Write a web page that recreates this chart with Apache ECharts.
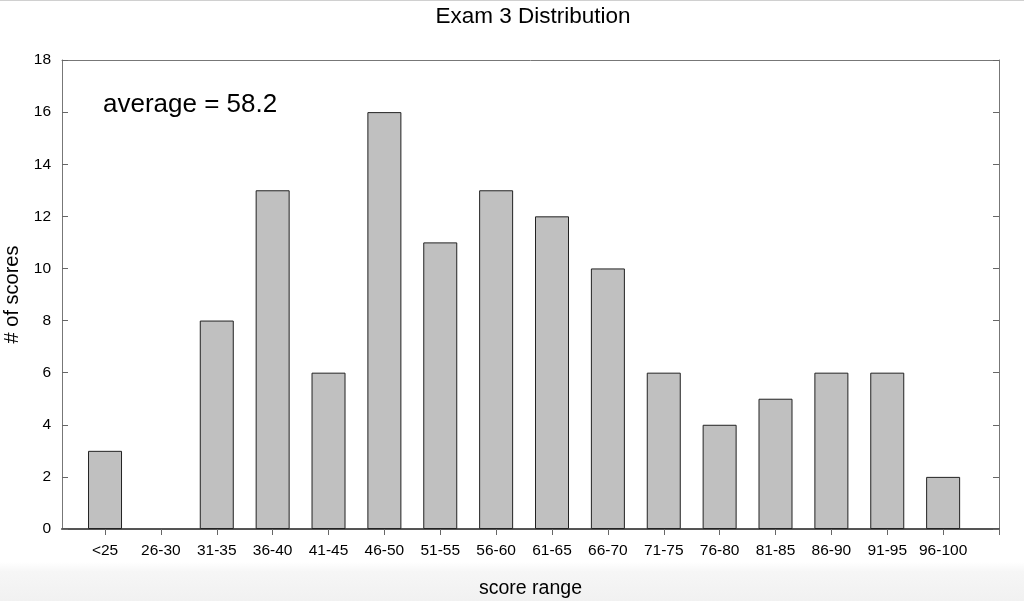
<!DOCTYPE html>
<html>
<head>
<meta charset="utf-8">
<script src="https://cdn.jsdelivr.net/npm/echarts@6/dist/echarts.min.js"></script>
<style>
  html, body { margin: 0; padding: 0; background: #fff; }
  #chart { width: 1024px; height: 601px; }
</style>
</head>
<body>
<div id="chart"></div>
<script>
var categories = ['<25', '26-30', '31-35', '36-40', '41-45', '46-50', '51-55', '56-60',
    '61-65', '66-70', '71-75', '76-80', '81-85', '86-90', '91-95', '96-100'];
var counts = [3, 0, 8, 13, 6, 16, 11, 13, 12, 10, 6, 4, 5, 6, 6, 2];
var yTicks = [0, 2, 4, 6, 8, 10, 12, 14, 16, 18];
var averageText = 'average = 58.2';

var tickPositions = [];
for (var i = 0; i <= categories.length; i++) tickPositions.push(i);
var labelPositions = tickPositions.slice(0, categories.length);

// empty bins draw nothing at all
var barData = counts.map(function (v, i) { return v === 0 ? [i, null] : [i, v]; });

var font = 'Liberation Sans, Arial, sans-serif';
var myChart = echarts.init(document.getElementById('chart'));

var option = {
    animation: false,
    backgroundColor: '#fff',
    title: {
        text: 'Exam 3 Distribution',
        left: 528,
        textAlign: 'center',
        top: 0,
        textStyle: { fontFamily: font, fontSize: 22.5, fontWeight: 'normal', color: '#000' }
    },
    graphic: [
        {
            type: 'rect',
            z: -10,
            silent: true,
            shape: { x: 0, y: 562, width: 1024, height: 39 },
            style: {
                fill: new echarts.graphic.LinearGradient(0, 0, 0, 1, [
                    { offset: 0, color: '#ffffff' },
                    { offset: 0.25, color: '#f6f6f6' },
                    { offset: 1, color: '#f1f1f1' }
                ])
            }
        },
        {
            type: 'line',
            silent: true,
            shape: { x1: 0, y1: 0.5, x2: 1024, y2: 0.5 },
            style: { stroke: '#d0d0d0', lineWidth: 1 }
        },
        {
            type: 'text',
            left: 103,
            top: 92,
            style: { text: averageText, font: '26px ' + font, fill: '#000' }
        }
    ],
    grid: { left: 62, right: 25, top: 60, bottom: 72, containLabel: false, outerBoundsMode: 'none' },
    xAxis: [
        {
            type: 'value',
            min: -0.77,
            max: 16,
            position: 'bottom',
            name: 'score range',
            nameLocation: 'middle',
            nameGap: 50,
            nameTextStyle: { fontFamily: font, fontSize: 19.5, color: '#000' },
            axisLine: { onZero: false, lineStyle: { color: '#555', width: 2 } },
            axisTick: { show: true, customValues: tickPositions, length: 6, lineStyle: { color: '#666' } },
            axisLabel: {
                customValues: labelPositions,
                margin: 14,
                fontFamily: font,
                fontSize: 15.5,
                color: '#000',
                formatter: function (v) { return categories[Math.round(v)]; }
            },
            splitLine: { show: false }
        },
        {
            type: 'value',
            min: -0.77,
            max: 16,
            position: 'top',
            axisLine: { show: true, onZero: false, lineStyle: { color: '#777', width: 1 } },
            axisTick: { show: false },
            axisLabel: { show: false },
            splitLine: { show: false }
        }
    ],
    yAxis: [
        {
            type: 'value',
            min: 0,
            max: 18,
            interval: 2,
            position: 'left',
            name: '# of scores',
            nameLocation: 'middle',
            nameGap: 40,
            nameRotate: 90,
            nameTextStyle: { fontFamily: font, fontSize: 20, color: '#000' },
            axisLine: { show: true, onZero: false, lineStyle: { color: '#777', width: 1 } },
            axisTick: { show: true, inside: true, length: 6, lineStyle: { color: '#666' } },
            axisLabel: { margin: 11, fontFamily: font, fontSize: 15.5, color: '#000' },
            splitLine: { show: false }
        },
        {
            type: 'value',
            min: 0,
            max: 18,
            interval: 2,
            position: 'right',
            axisLine: { show: true, onZero: false, lineStyle: { color: '#777', width: 1 } },
            axisTick: { show: true, inside: true, length: 6, lineStyle: { color: '#666' } },
            axisLabel: { show: false },
            splitLine: { show: false }
        }
    ],
    series: [{
        type: 'bar',
        xAxisIndex: 0,
        yAxisIndex: 0,
        data: barData,
        barWidth: 34,
        itemStyle: { color: '#c0c0c0', borderColor: '#222', borderWidth: 1 }
    }]
};

myChart.setOption(option);
</script>
</body>
</html>
